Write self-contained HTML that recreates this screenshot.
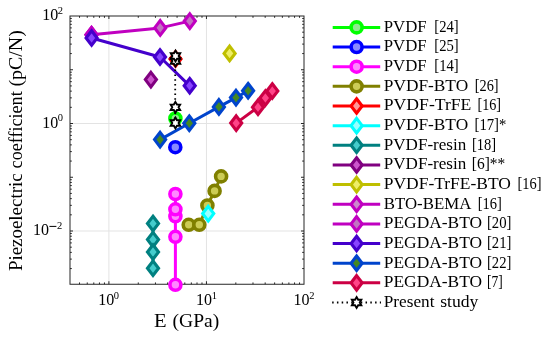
<!DOCTYPE html>
<html><head><meta charset="utf-8"><style>
html,body{margin:0;padding:0;background:#fff;}
svg{display:block;will-change:transform;}
text{font-family:"Liberation Serif",serif;fill:#000;}
.lt{font-size:16.5px;}
.tl{font-size:16px;}
.sup{font-size:10.5px;}
.al{font-size:18px;}
</style></head><body>
<svg width="550" height="337" viewBox="0 0 550 337">
<rect width="550" height="337" fill="#fff"/>
<line x1="108.90" y1="16" x2="108.90" y2="284.25" stroke="#e3e3e3" stroke-width="1"/>
<line x1="206.45" y1="16" x2="206.45" y2="284.25" stroke="#e3e3e3" stroke-width="1"/>
<line x1="70" y1="123.50" x2="304" y2="123.50" stroke="#e3e3e3" stroke-width="1"/>
<line x1="70" y1="231.00" x2="304" y2="231.00" stroke="#e3e3e3" stroke-width="1"/>
<path d="M79.53 284.25v-1.8M79.53 16v1.8M87.26 284.25v-1.8M87.26 16v1.8M93.79 284.25v-1.8M93.79 16v1.8M99.45 284.25v-1.8M99.45 16v1.8M104.44 284.25v-1.8M104.44 16v1.8M108.90 284.25v-3M108.90 16v3M138.27 284.25v-1.8M138.27 16v1.8M155.44 284.25v-1.8M155.44 16v1.8M167.63 284.25v-1.8M167.63 16v1.8M177.08 284.25v-1.8M177.08 16v1.8M184.81 284.25v-1.8M184.81 16v1.8M191.34 284.25v-1.8M191.34 16v1.8M197.00 284.25v-1.8M197.00 16v1.8M201.99 284.25v-1.8M201.99 16v1.8M206.45 284.25v-3M206.45 16v3M235.82 284.25v-1.8M235.82 16v1.8M252.99 284.25v-1.8M252.99 16v1.8M265.18 284.25v-1.8M265.18 16v1.8M274.63 284.25v-1.8M274.63 16v1.8M282.36 284.25v-1.8M282.36 16v1.8M288.89 284.25v-1.8M288.89 16v1.8M294.55 284.25v-1.8M294.55 16v1.8M299.54 284.25v-1.8M299.54 16v1.8M70 268.57h1.8M304 268.57h-1.8M70 259.10h1.8M304 259.10h-1.8M70 252.39h1.8M304 252.39h-1.8M70 247.18h1.8M304 247.18h-1.8M70 242.92h1.8M304 242.92h-1.8M70 239.33h1.8M304 239.33h-1.8M70 236.21h1.8M304 236.21h-1.8M70 233.46h1.8M304 233.46h-1.8M70 231.00h3M304 231.00h-3M70 214.82h1.8M304 214.82h-1.8M70 205.35h1.8M304 205.35h-1.8M70 198.64h1.8M304 198.64h-1.8M70 193.43h1.8M304 193.43h-1.8M70 189.17h1.8M304 189.17h-1.8M70 185.58h1.8M304 185.58h-1.8M70 182.46h1.8M304 182.46h-1.8M70 179.71h1.8M304 179.71h-1.8M70 177.25h3M304 177.25h-3M70 161.07h1.8M304 161.07h-1.8M70 151.60h1.8M304 151.60h-1.8M70 144.89h1.8M304 144.89h-1.8M70 139.68h1.8M304 139.68h-1.8M70 135.42h1.8M304 135.42h-1.8M70 131.83h1.8M304 131.83h-1.8M70 128.71h1.8M304 128.71h-1.8M70 125.96h1.8M304 125.96h-1.8M70 123.50h3M304 123.50h-3M70 107.32h1.8M304 107.32h-1.8M70 97.85h1.8M304 97.85h-1.8M70 91.14h1.8M304 91.14h-1.8M70 85.93h1.8M304 85.93h-1.8M70 81.67h1.8M304 81.67h-1.8M70 78.08h1.8M304 78.08h-1.8M70 74.96h1.8M304 74.96h-1.8M70 72.21h1.8M304 72.21h-1.8M70 69.75h3M304 69.75h-3M70 53.57h1.8M304 53.57h-1.8M70 44.10h1.8M304 44.10h-1.8M70 37.39h1.8M304 37.39h-1.8M70 32.18h1.8M304 32.18h-1.8M70 27.92h1.8M304 27.92h-1.8M70 24.33h1.8M304 24.33h-1.8M70 21.21h1.8M304 21.21h-1.8M70 18.46h1.8M304 18.46h-1.8" stroke="#262626" stroke-width="1" fill="none"/>
<rect x="70" y="16" width="234" height="268.25" fill="none" stroke="#262626" stroke-width="1"/>
<circle cx="175.40" cy="118.50" r="5.5" fill="#8eea8e" stroke="#00ff00" stroke-width="3.6"/>
<circle cx="175.30" cy="147.20" r="5.5" fill="#8888ff" stroke="#0000ff" stroke-width="3.6"/>
<path d="M175.40 284.80L175.40 216.30L175.40 194.00L175.40 209.30L175.40 236.80" fill="none" stroke="#ff00ff" stroke-width="3.0" stroke-linejoin="round"/>
<circle cx="175.40" cy="284.80" r="5.5" fill="#ff88ff" stroke="#ff00ff" stroke-width="3.6"/>
<circle cx="175.40" cy="216.30" r="5.5" fill="#ff88ff" stroke="#ff00ff" stroke-width="3.6"/>
<circle cx="175.40" cy="194.00" r="5.5" fill="#ff88ff" stroke="#ff00ff" stroke-width="3.6"/>
<circle cx="175.40" cy="209.30" r="5.5" fill="#ff88ff" stroke="#ff00ff" stroke-width="3.6"/>
<circle cx="175.40" cy="236.80" r="5.5" fill="#ff88ff" stroke="#ff00ff" stroke-width="3.6"/>
<path d="M188.70 224.80L199.30 224.80L207.40 205.50L214.60 190.90L221.10 176.40" fill="none" stroke="#808000" stroke-width="3.0" stroke-linejoin="round"/>
<circle cx="188.70" cy="224.80" r="5.5" fill="#cccc55" stroke="#808000" stroke-width="3.6"/>
<circle cx="199.30" cy="224.80" r="5.5" fill="#cccc55" stroke="#808000" stroke-width="3.6"/>
<circle cx="207.40" cy="205.50" r="5.5" fill="#cccc55" stroke="#808000" stroke-width="3.6"/>
<circle cx="214.60" cy="190.90" r="5.5" fill="#cccc55" stroke="#808000" stroke-width="3.6"/>
<circle cx="221.10" cy="176.40" r="5.5" fill="#cccc55" stroke="#808000" stroke-width="3.6"/>
<path d="M175.50 51.75L181.05 59.00L175.50 66.25L169.95 59.00Z" fill="#ff9999" stroke="#ff0000" stroke-width="3.1" stroke-linejoin="miter"/>
<path d="M208.20 206.35L213.75 213.60L208.20 220.85L202.65 213.60Z" fill="#99ffff" stroke="#00ffff" stroke-width="3.1" stroke-linejoin="miter"/>
<path d="M153.00 223.50L153.00 239.60L153.00 252.00L153.00 268.20" fill="none" stroke="#008080" stroke-width="3.0" stroke-linejoin="round"/>
<path d="M153.00 216.25L158.55 223.50L153.00 230.75L147.45 223.50Z" fill="#44cccc" stroke="#008080" stroke-width="3.1" stroke-linejoin="miter"/>
<path d="M153.00 232.35L158.55 239.60L153.00 246.85L147.45 239.60Z" fill="#44cccc" stroke="#008080" stroke-width="3.1" stroke-linejoin="miter"/>
<path d="M153.00 244.75L158.55 252.00L153.00 259.25L147.45 252.00Z" fill="#44cccc" stroke="#008080" stroke-width="3.1" stroke-linejoin="miter"/>
<path d="M153.00 260.95L158.55 268.20L153.00 275.45L147.45 268.20Z" fill="#44cccc" stroke="#008080" stroke-width="3.1" stroke-linejoin="miter"/>
<path d="M150.90 72.35L156.45 79.60L150.90 86.85L145.35 79.60Z" fill="#cc55cc" stroke="#800080" stroke-width="3.1" stroke-linejoin="miter"/>
<path d="M229.60 46.15L235.15 53.40L229.60 60.65L224.05 53.40Z" fill="#eeee66" stroke="#bfbf00" stroke-width="3.1" stroke-linejoin="miter"/>
<path d="M91.50 27.55L97.05 34.80L91.50 42.05L85.95 34.80Z" fill="#cc88cc" stroke="#c000c0" stroke-width="3.1" stroke-linejoin="miter"/>
<path d="M91.50 34.80L160.20 27.90L189.80 21.10" fill="none" stroke="#c000c0" stroke-width="3.0" stroke-linejoin="round"/>
<path d="M91.50 27.55L97.05 34.80L91.50 42.05L85.95 34.80Z" fill="#c273c2" stroke="#c000c0" stroke-width="3.1" stroke-linejoin="miter"/>
<path d="M160.20 20.65L165.75 27.90L160.20 35.15L154.65 27.90Z" fill="#c273c2" stroke="#c000c0" stroke-width="3.1" stroke-linejoin="miter"/>
<path d="M189.80 13.85L195.35 21.10L189.80 28.35L184.25 21.10Z" fill="#c273c2" stroke="#c000c0" stroke-width="3.1" stroke-linejoin="miter"/>
<path d="M91.60 38.00L160.00 57.00L189.70 85.80" fill="none" stroke="#4400cc" stroke-width="3.0" stroke-linejoin="round"/>
<path d="M91.60 30.75L97.15 38.00L91.60 45.25L86.05 38.00Z" fill="#8844ff" stroke="#4400cc" stroke-width="3.1" stroke-linejoin="miter"/>
<path d="M160.00 49.75L165.55 57.00L160.00 64.25L154.45 57.00Z" fill="#8844ff" stroke="#4400cc" stroke-width="3.1" stroke-linejoin="miter"/>
<path d="M189.70 78.55L195.25 85.80L189.70 93.05L184.15 85.80Z" fill="#8844ff" stroke="#4400cc" stroke-width="3.1" stroke-linejoin="miter"/>
<path d="M160.10 139.60L189.30 123.30L218.90 106.90L236.00 97.60L248.10 90.80" fill="none" stroke="#0044cc" stroke-width="3.0" stroke-linejoin="round"/>
<path d="M160.10 132.35L165.65 139.60L160.10 146.85L154.55 139.60Z" fill="#448822" stroke="#0044cc" stroke-width="3.1" stroke-linejoin="miter"/>
<path d="M189.30 116.05L194.85 123.30L189.30 130.55L183.75 123.30Z" fill="#448822" stroke="#0044cc" stroke-width="3.1" stroke-linejoin="miter"/>
<path d="M218.90 99.65L224.45 106.90L218.90 114.15L213.35 106.90Z" fill="#448822" stroke="#0044cc" stroke-width="3.1" stroke-linejoin="miter"/>
<path d="M236.00 90.35L241.55 97.60L236.00 104.85L230.45 97.60Z" fill="#448822" stroke="#0044cc" stroke-width="3.1" stroke-linejoin="miter"/>
<path d="M248.10 83.55L253.65 90.80L248.10 98.05L242.55 90.80Z" fill="#448822" stroke="#0044cc" stroke-width="3.1" stroke-linejoin="miter"/>
<path d="M236.20 123.10L258.00 107.20L265.40 98.00L272.30 91.00" fill="none" stroke="#cc0044" stroke-width="3.0" stroke-linejoin="round"/>
<path d="M236.20 115.85L241.75 123.10L236.20 130.35L230.65 123.10Z" fill="#ff4488" stroke="#cc0044" stroke-width="3.1" stroke-linejoin="miter"/>
<path d="M258.00 99.95L263.55 107.20L258.00 114.45L252.45 107.20Z" fill="#ff4488" stroke="#cc0044" stroke-width="3.1" stroke-linejoin="miter"/>
<path d="M265.40 90.75L270.95 98.00L265.40 105.25L259.85 98.00Z" fill="#ff4488" stroke="#cc0044" stroke-width="3.1" stroke-linejoin="miter"/>
<path d="M272.30 83.75L277.85 91.00L272.30 98.25L266.75 91.00Z" fill="#ff4488" stroke="#cc0044" stroke-width="3.1" stroke-linejoin="miter"/>
<path d="M175.20 55.30L175.20 123.00" fill="none" stroke="#000" stroke-width="1.8" stroke-dasharray="1.5 3.27" stroke-linejoin="round"/>
<path d="M175.50 55.55L177.07 58.27L180.22 58.27L178.65 61.00L180.22 63.73L177.07 63.73L175.50 66.45L173.93 63.73L170.78 63.73L172.35 61.00L170.78 58.27L173.93 58.27Z" fill="#fff" stroke="#000" stroke-width="1.9" stroke-linejoin="miter"/>
<path d="M175.50 50.55L177.07 53.27L180.22 53.27L178.65 56.00L180.22 58.73L177.07 58.73L175.50 61.45L173.93 58.73L170.78 58.73L172.35 56.00L170.78 53.27L173.93 53.27Z" fill="#fff" stroke="#000" stroke-width="1.9" stroke-linejoin="miter"/>
<path d="M175.40 101.85L176.97 104.58L180.12 104.58L178.55 107.30L180.12 110.02L176.97 110.02L175.40 112.75L173.83 110.02L170.68 110.02L172.25 107.30L170.68 104.58L173.83 104.58Z" fill="#fff" stroke="#000" stroke-width="1.9" stroke-linejoin="miter"/>
<path d="M175.40 117.55L176.97 120.28L180.12 120.28L178.55 123.00L180.12 125.72L176.97 125.72L175.40 128.45L173.83 125.72L170.68 125.72L172.25 123.00L170.68 120.28L173.83 120.28Z" fill="#fff" stroke="#000" stroke-width="1.9" stroke-linejoin="miter"/>
<path d="M332.70 27.40L380.20 27.40" fill="none" stroke="#00ff00" stroke-width="3.0" stroke-linejoin="round"/>
<circle cx="356.60" cy="27.40" r="5.5" fill="#8eea8e" stroke="#00ff00" stroke-width="3.6"/>
<path d="M332.70 47.05L380.20 47.05" fill="none" stroke="#0000ff" stroke-width="3.0" stroke-linejoin="round"/>
<circle cx="356.60" cy="47.05" r="5.5" fill="#8888ff" stroke="#0000ff" stroke-width="3.6"/>
<path d="M332.70 66.70L380.20 66.70" fill="none" stroke="#ff00ff" stroke-width="3.0" stroke-linejoin="round"/>
<circle cx="356.60" cy="66.70" r="5.5" fill="#ff88ff" stroke="#ff00ff" stroke-width="3.6"/>
<path d="M332.70 86.35L380.20 86.35" fill="none" stroke="#808000" stroke-width="3.0" stroke-linejoin="round"/>
<circle cx="356.60" cy="86.35" r="5.5" fill="#cccc55" stroke="#808000" stroke-width="3.6"/>
<path d="M332.70 106.00L380.20 106.00" fill="none" stroke="#ff0000" stroke-width="3.0" stroke-linejoin="round"/>
<path d="M356.60 98.75L362.15 106.00L356.60 113.25L351.05 106.00Z" fill="#ff9999" stroke="#ff0000" stroke-width="3.1" stroke-linejoin="miter"/>
<path d="M332.70 125.65L380.20 125.65" fill="none" stroke="#00ffff" stroke-width="3.0" stroke-linejoin="round"/>
<path d="M356.60 118.40L362.15 125.65L356.60 132.90L351.05 125.65Z" fill="#99ffff" stroke="#00ffff" stroke-width="3.1" stroke-linejoin="miter"/>
<path d="M332.70 145.30L380.20 145.30" fill="none" stroke="#008080" stroke-width="3.0" stroke-linejoin="round"/>
<path d="M356.60 138.05L362.15 145.30L356.60 152.55L351.05 145.30Z" fill="#44cccc" stroke="#008080" stroke-width="3.1" stroke-linejoin="miter"/>
<path d="M332.70 164.95L380.20 164.95" fill="none" stroke="#800080" stroke-width="3.0" stroke-linejoin="round"/>
<path d="M356.60 157.70L362.15 164.95L356.60 172.20L351.05 164.95Z" fill="#cc55cc" stroke="#800080" stroke-width="3.1" stroke-linejoin="miter"/>
<path d="M332.70 184.60L380.20 184.60" fill="none" stroke="#bfbf00" stroke-width="3.0" stroke-linejoin="round"/>
<path d="M356.60 177.35L362.15 184.60L356.60 191.85L351.05 184.60Z" fill="#eeee66" stroke="#bfbf00" stroke-width="3.1" stroke-linejoin="miter"/>
<path d="M332.70 204.25L380.20 204.25" fill="none" stroke="#c000c0" stroke-width="3.0" stroke-linejoin="round"/>
<path d="M356.60 197.00L362.15 204.25L356.60 211.50L351.05 204.25Z" fill="#cc88cc" stroke="#c000c0" stroke-width="3.1" stroke-linejoin="miter"/>
<path d="M332.70 223.90L380.20 223.90" fill="none" stroke="#c000c0" stroke-width="3.0" stroke-linejoin="round"/>
<path d="M356.60 216.65L362.15 223.90L356.60 231.15L351.05 223.90Z" fill="#c273c2" stroke="#c000c0" stroke-width="3.1" stroke-linejoin="miter"/>
<path d="M332.70 243.55L380.20 243.55" fill="none" stroke="#4400cc" stroke-width="3.0" stroke-linejoin="round"/>
<path d="M356.60 236.30L362.15 243.55L356.60 250.80L351.05 243.55Z" fill="#8844ff" stroke="#4400cc" stroke-width="3.1" stroke-linejoin="miter"/>
<path d="M332.70 263.20L380.20 263.20" fill="none" stroke="#0044cc" stroke-width="3.0" stroke-linejoin="round"/>
<path d="M356.60 255.95L362.15 263.20L356.60 270.45L351.05 263.20Z" fill="#448822" stroke="#0044cc" stroke-width="3.1" stroke-linejoin="miter"/>
<path d="M332.70 282.85L380.20 282.85" fill="none" stroke="#cc0044" stroke-width="3.0" stroke-linejoin="round"/>
<path d="M356.60 275.60L362.15 282.85L356.60 290.10L351.05 282.85Z" fill="#ff4488" stroke="#cc0044" stroke-width="3.1" stroke-linejoin="miter"/>
<path d="M332.15 302.50L381.00 302.50" fill="none" stroke="#000" stroke-width="1.8" stroke-dasharray="1.5 3.27" stroke-linejoin="round"/>
<path d="M356.60 297.05L358.17 299.77L361.32 299.77L359.75 302.50L361.32 305.22L358.17 305.22L356.60 307.95L355.03 305.22L351.88 305.22L353.45 302.50L351.88 299.77L355.03 299.77Z" fill="#fff" stroke="#000" stroke-width="1.9" stroke-linejoin="miter"/>
<text x="383.79" y="31.70" class="lt" textLength="42.91" lengthAdjust="spacingAndGlyphs">PVDF</text>
<text x="434.29" y="31.70" class="lt" textLength="24.41" lengthAdjust="spacingAndGlyphs">[24]</text>
<text x="383.79" y="51.35" class="lt" textLength="42.91" lengthAdjust="spacingAndGlyphs">PVDF</text>
<text x="434.29" y="51.35" class="lt" textLength="24.41" lengthAdjust="spacingAndGlyphs">[25]</text>
<text x="383.79" y="71.00" class="lt" textLength="42.91" lengthAdjust="spacingAndGlyphs">PVDF</text>
<text x="434.29" y="71.00" class="lt" textLength="24.41" lengthAdjust="spacingAndGlyphs">[14]</text>
<text x="383.78" y="90.65" class="lt" textLength="84.39" lengthAdjust="spacingAndGlyphs">PVDF-BTO</text>
<text x="474.72" y="90.65" class="lt" textLength="23.86" lengthAdjust="spacingAndGlyphs">[26]</text>
<text x="383.77" y="110.30" class="lt" textLength="87.63" lengthAdjust="spacingAndGlyphs">PVDF-TrFE</text>
<text x="477.42" y="110.30" class="lt" textLength="23.64" lengthAdjust="spacingAndGlyphs">[16]</text>
<text x="383.78" y="129.95" class="lt" textLength="84.39" lengthAdjust="spacingAndGlyphs">PVDF-BTO</text>
<text x="474.49" y="129.95" class="lt" textLength="31.88" lengthAdjust="spacingAndGlyphs">[17]*</text>
<text x="383.78" y="149.60" class="lt" textLength="82.48" lengthAdjust="spacingAndGlyphs">PVDF-resin</text>
<text x="471.90" y="149.60" class="lt" textLength="24.19" lengthAdjust="spacingAndGlyphs">[18]</text>
<text x="383.78" y="169.25" class="lt" textLength="82.48" lengthAdjust="spacingAndGlyphs">PVDF-resin</text>
<text x="471.83" y="169.25" class="lt" textLength="33.47" lengthAdjust="spacingAndGlyphs">[6]**</text>
<text x="383.77" y="188.90" class="lt" textLength="127.19" lengthAdjust="spacingAndGlyphs">PVDF-TrFE-BTO</text>
<text x="517.51" y="188.90" class="lt" textLength="23.97" lengthAdjust="spacingAndGlyphs">[16]</text>
<text x="383.79" y="208.55" class="lt" textLength="87.53" lengthAdjust="spacingAndGlyphs">BTO-BEMA</text>
<text x="477.70" y="208.55" class="lt" textLength="24.19" lengthAdjust="spacingAndGlyphs">[16]</text>
<text x="383.77" y="228.20" class="lt" textLength="98.37" lengthAdjust="spacingAndGlyphs">PEGDA-BTO</text>
<text x="486.98" y="228.20" class="lt" textLength="24.52" lengthAdjust="spacingAndGlyphs">[20]</text>
<text x="383.77" y="247.85" class="lt" textLength="98.37" lengthAdjust="spacingAndGlyphs">PEGDA-BTO</text>
<text x="486.98" y="247.85" class="lt" textLength="24.52" lengthAdjust="spacingAndGlyphs">[21]</text>
<text x="383.77" y="267.50" class="lt" textLength="98.37" lengthAdjust="spacingAndGlyphs">PEGDA-BTO</text>
<text x="486.98" y="267.50" class="lt" textLength="24.52" lengthAdjust="spacingAndGlyphs">[22]</text>
<text x="383.77" y="287.15" class="lt" textLength="98.37" lengthAdjust="spacingAndGlyphs">PEGDA-BTO</text>
<text x="487.08" y="287.15" class="lt" textLength="15.74" lengthAdjust="spacingAndGlyphs">[7]</text>
<text x="383.78" y="306.80" class="lt" textLength="50.70" lengthAdjust="spacingAndGlyphs">Present</text>
<text x="440.20" y="306.80" class="lt" textLength="38.21" lengthAdjust="spacingAndGlyphs">study</text>
<text x="63" y="20" text-anchor="end" class="tl">10<tspan dy="-6.3" dx="-0.4" class="sup">2</tspan></text>
<text x="63" y="127.5" text-anchor="end" class="tl">10<tspan dy="-6.3" dx="-0.4" class="sup">0</tspan></text>
<text x="33.0" y="235" class="tl">10</text><rect x="49.4" y="225.9" width="7" height="1" fill="#000"/><text x="56.9" y="228.6" class="sup">2</text>
<text x="108.6" y="304.8" text-anchor="middle" class="tl">10<tspan dy="-6.3" dx="-0.4" class="sup">0</tspan></text>
<text x="206.5" y="304.8" text-anchor="middle" class="tl">10<tspan dy="-6.3" dx="-0.4" class="sup">1</tspan></text>
<text x="304" y="304.8" text-anchor="middle" class="tl">10<tspan dy="-6.3" dx="-0.4" class="sup">2</tspan></text>
<text class="al" x="153.9" y="326.5" textLength="12.6" lengthAdjust="spacingAndGlyphs">E</text>
<text class="al" x="172.5" y="326.5" textLength="46.7" lengthAdjust="spacingAndGlyphs">(GPa)</text>
<text class="al" transform="translate(21.7,271.05) rotate(-90)" textLength="97.65" lengthAdjust="spacingAndGlyphs">Piezoelectric</text>
<text class="al" transform="translate(21.7,168.4) rotate(-90)" textLength="77.1" lengthAdjust="spacingAndGlyphs">coefficient</text>
<text class="al" transform="translate(21.7,86.5) rotate(-90)" textLength="56.3" lengthAdjust="spacingAndGlyphs">(pC/N)</text>
</svg>
</body></html>
